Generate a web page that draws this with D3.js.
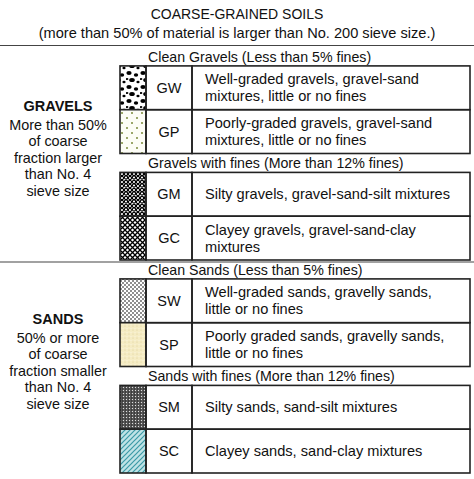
<!DOCTYPE html><html><head><meta charset="utf-8"><script src="https://cdn.jsdelivr.net/npm/d3@7"></script>
<style>body{margin:0;background:#fff}text{font-family:"Liberation Sans",Arial,sans-serif;fill:#111}</style></head><body><svg id="c" width="474" height="479"></svg><script>
const title = "COARSE-GRAINED SOILS";
const subtitle = "(more than 50% of material is larger than No. 200 sieve size.)";
const groups = ["GRAVELS","SANDS"];
const groupNotes = [["More than 50%","of coarse","fraction larger","than No. 4","sieve size"],["50% or more","of coarse","fraction smaller","than No. 4","sieve size"]];
const subHeaders = ["Clean Gravels (Less than 5% fines)","Gravels with fines (More than 12% fines)","Clean Sands (Less than 5% fines)","Sands with fines (More than 12% fines)"];
const codes = ["GW","GP","GM","GC","SW","SP","SM","SC"];
const descriptions = [["Well-graded gravels, gravel-sand","mixtures, little or no fines"],["Poorly-graded gravels, gravel-sand","mixtures, little or no fines"],["Silty gravels, gravel-sand-silt mixtures"],["Clayey gravels, gravel-sand-clay","mixtures"],["Well-graded sands, gravelly sands,","little or no fines"],["Poorly graded sands, gravelly sands,","little or no fines"],["Silty sands, sand-silt mixtures"],["Clayey sands, sand-clay mixtures"]];

const svg=d3.select("#c");
const defs=svg.append("defs");
function pat(id,w,h,bg,fn){const p=defs.append("pattern").attr("id",id).attr("patternUnits","userSpaceOnUse").attr("width",w).attr("height",h);p.append("rect").attr("width",w).attr("height",h).attr("fill",bg);fn(p);}
pat("GW",14,14,"#fff",p=>{[[3,3,2.6],[10,5,2.2],[6,10,2.8],[12,12,1.6],[1,9,1.4]].forEach(c=>p.append("ellipse").attr("cx",c[0]).attr("cy",c[1]).attr("rx",c[2]).attr("ry",c[2]*0.75).attr("fill","#000"));});
pat("GP",10,10,"#fdfdf6",p=>{[[2,3],[7,8]].forEach(c=>p.append("circle").attr("cx",c[0]).attr("cy",c[1]).attr("r",1).attr("fill","#7a8a3a"));});
pat("GM",8,8,"#fff",p=>{[[2,2],[6,6],[6,1.5],[2,6]].forEach(c=>p.append("circle").attr("cx",c[0]).attr("cy",c[1]).attr("r",1.6).attr("fill","none").attr("stroke","#000").attr("stroke-width",1.1));});
pat("GC",5,5,"#fff",p=>{p.append("path").attr("d","M0,0L5,5M5,0L0,5").attr("stroke","#000").attr("stroke-width",1.3);});
pat("SW",4,4,"#fff",p=>{p.append("circle").attr("cx",1).attr("cy",1).attr("r",0.8).attr("fill","#000");p.append("circle").attr("cx",3).attr("cy",3).attr("r",0.8).attr("fill","#000");});
pat("SP",4,4,"#f5ecc4",p=>{p.append("circle").attr("cx",1).attr("cy",2).attr("r",0.5).attr("fill","#d8c890");p.append("circle").attr("cx",3).attr("cy",0.5).attr("r",0.4).attr("fill","#fff");});
pat("SM",3,3,"#555",p=>{p.append("rect").attr("x",0).attr("y",0).attr("width",1).attr("height",1).attr("fill","#ddd");p.append("rect").attr("x",2).attr("y",1.5).attr("width",1).attr("height",1).attr("fill","#222");});
pat("SC",5,5,"#bfe3e6",p=>{p.append("path").attr("d","M-1,6L6,-1M-1,1L1,-1M4,6L6,4").attr("stroke","#3a9aa6").attr("stroke-width",1.2);});

const x=d3.scaleOrdinal().domain(["pat","code","desc","end"]).range([120,146,192,470]);
const hdrU=0.98,rowU=2.27;
const y=d3.scaleLinear().domain([0,4*hdrU+8*rowU]).range([47,473]);
let u=0,rows=[],hdrs=[];
subHeaders.forEach((h,i)=>{hdrs.push({t:h,y0:u});u+=hdrU;for(let k=0;k<2;k++){const j=i*2+k;rows.push({code:codes[j],desc:descriptions[j],y0:u,y1:u+rowU});u+=rowU;}});

svg.append("text").attr("x",237).attr("y",19).attr("text-anchor","middle").attr("font-size",14).text(title);
svg.append("text").attr("x",237).attr("y",38).attr("text-anchor","middle").attr("font-size",14.6).text(subtitle);
svg.selectAll(".sep").data([y(0)-1.5,y(2*hdrU+4*rowU)+2]).join("line").attr("x1",0).attr("x2",474).attr("y1",d=>d).attr("y2",d=>d).attr("stroke","#444").attr("stroke-width",1.2);
svg.selectAll(".hd").data(hdrs).join("text").attr("x",x("pat")+28).attr("y",d=>y(d.y0+hdrU)-4).attr("font-size",14.2).text(d=>d.t);
const g=svg.selectAll(".row").data(rows).join("g");
g.append("rect").attr("x",x("pat")).attr("y",d=>y(d.y0)).attr("width",x("code")-x("pat")).attr("height",d=>y(d.y1)-y(d.y0)).attr("fill",d=>`url(#${d.code})`);
["pat","code","desc"].forEach((c,i)=>{const n=["code","desc","end"][i];g.append("rect").attr("x",x(c)).attr("y",d=>y(d.y0)).attr("width",x(n)-x(c)).attr("height",d=>y(d.y1)-y(d.y0)).attr("fill","none").attr("stroke","#222").attr("stroke-width",1.6);});
g.append("text").attr("x",(x("code")+x("desc"))/2).attr("y",d=>(y(d.y0)+y(d.y1))/2+5).attr("text-anchor","middle").attr("font-size",14.5).text(d=>d.code);
g.each(function(d){const m=(y(d.y0)+y(d.y1))/2;d3.select(this).selectAll(".ds").data(d.desc).join("text").attr("x",x("desc")+13).attr("y",(t,i)=>m+5+(i-(d.desc.length-1)/2)*17).attr("font-size",14.6).text(t=>t);});
groups.forEach((gname,i)=>{const top=y(rows[i*4].y0),bot=y(rows[i*4+3].y1);const mid=(top+bot)/2;const cx=58;
 svg.append("text").attr("x",cx).attr("y",mid-52).attr("text-anchor","middle").attr("font-size",14.5).attr("font-weight","bold").text(gname);
 groupNotes[i].forEach((t,k)=>svg.append("text").attr("x",cx).attr("y",mid-33+k*16.5).attr("text-anchor","middle").attr("font-size",14.4).text(t));});
</script></body></html>
